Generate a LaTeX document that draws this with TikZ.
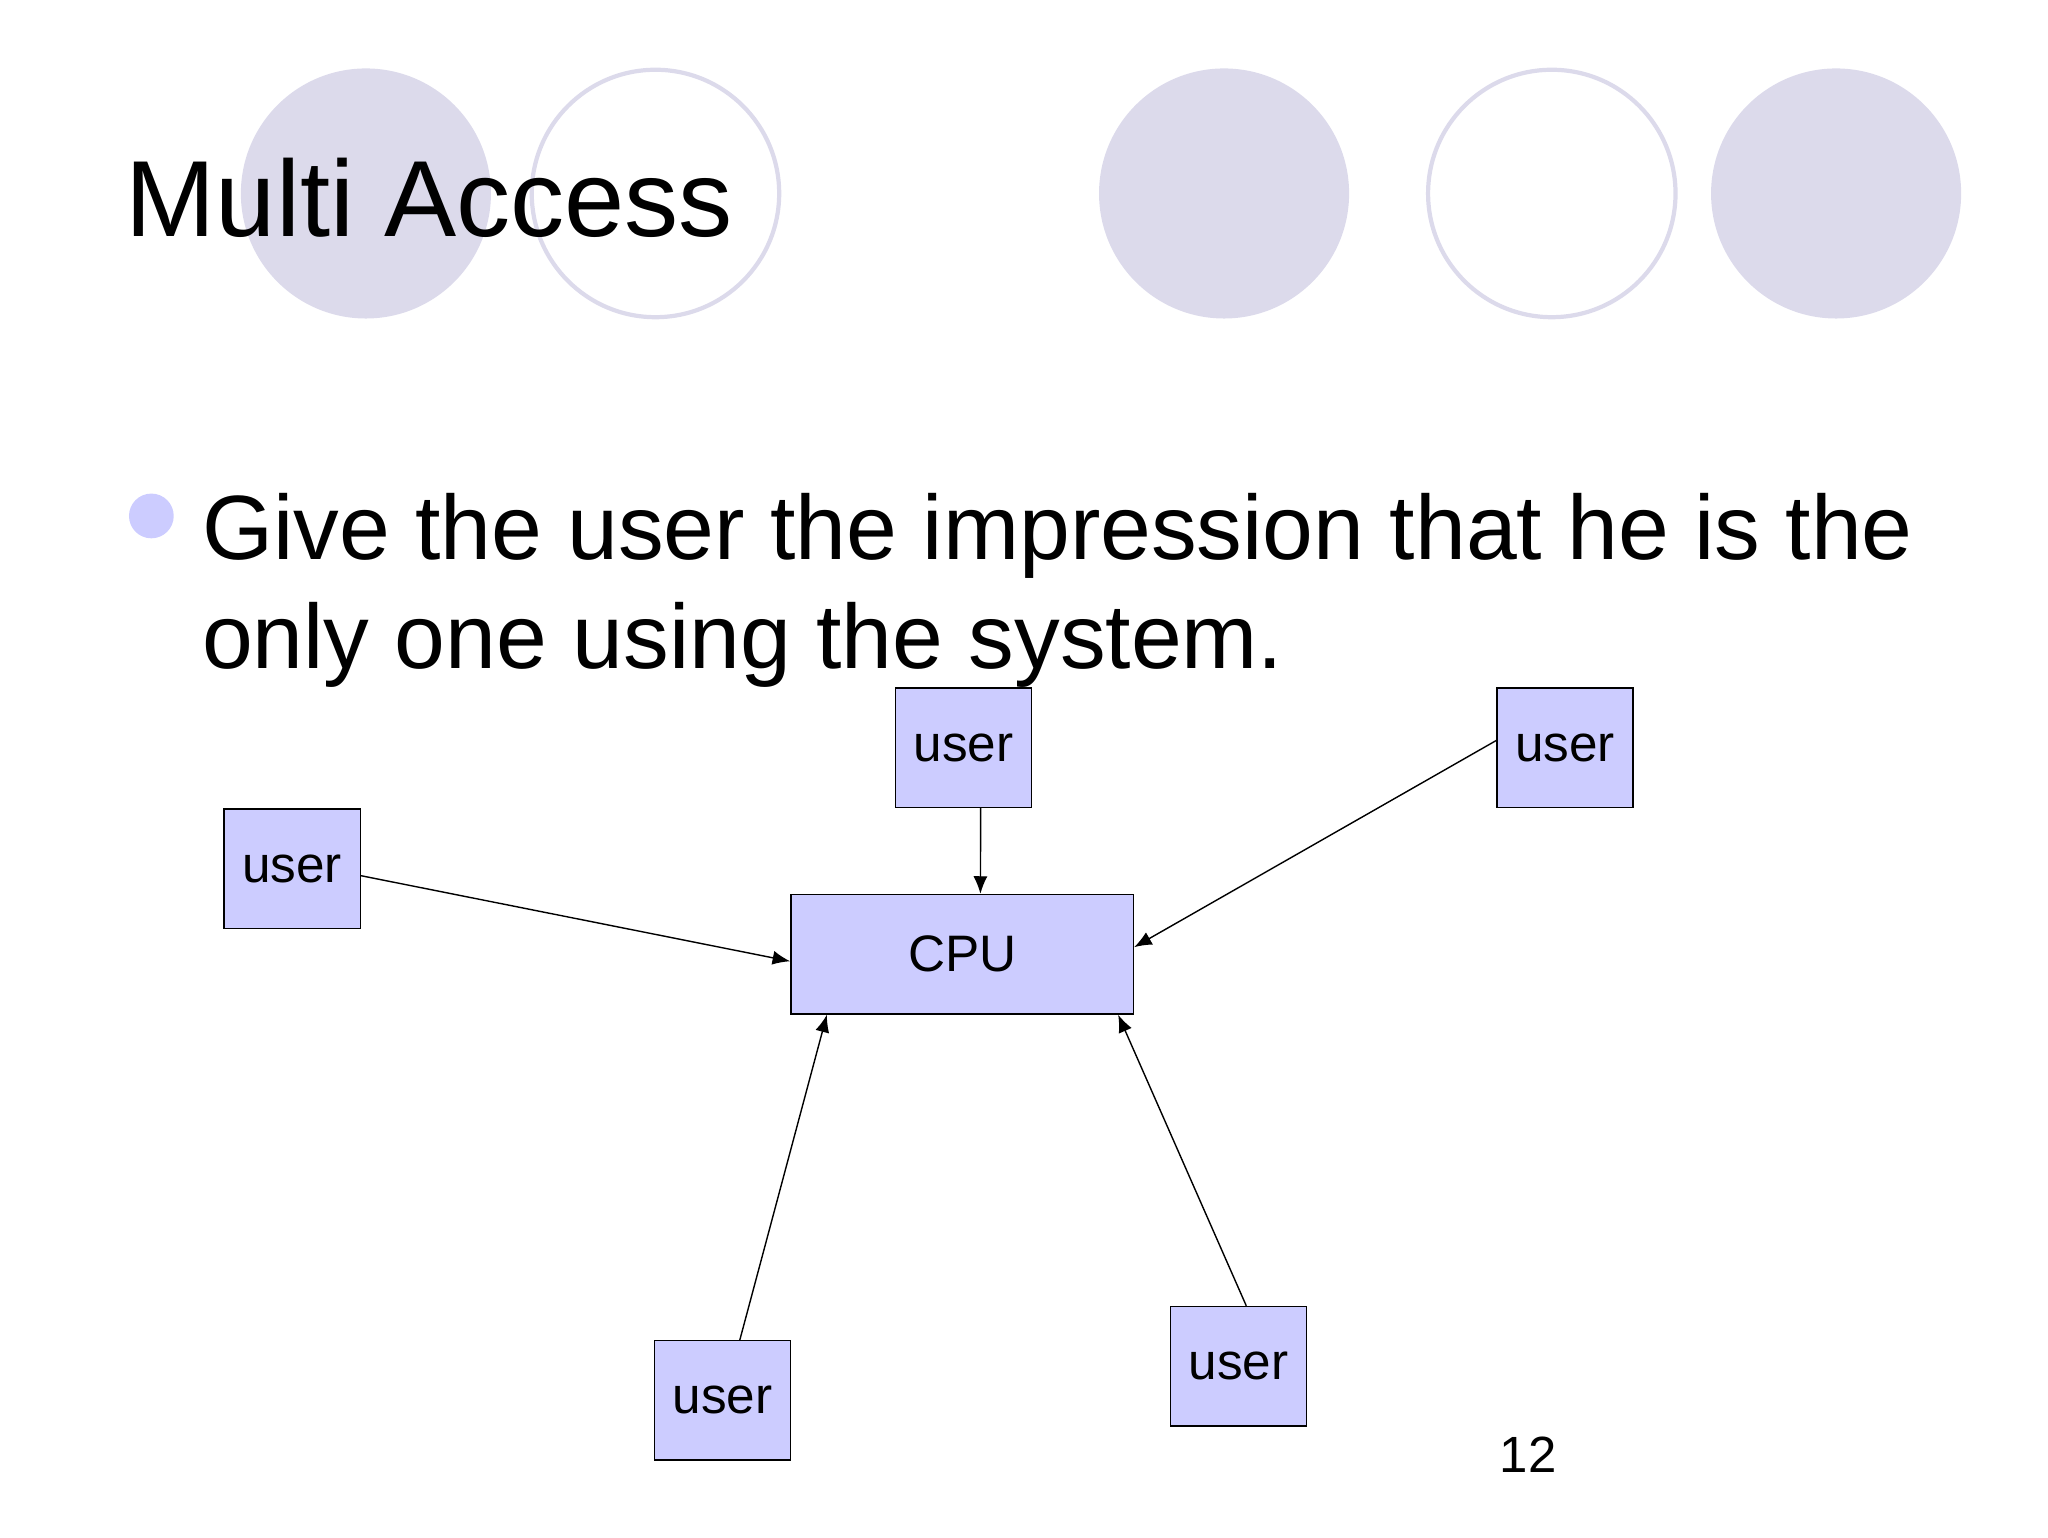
\documentclass[tikz,border=0pt]{standalone}
\usepackage{fontspec}
\setmainfont{Liberation Sans}
\usetikzlibrary{arrows.meta}
\definecolor{deco}{HTML}{DCDAEB}
\definecolor{boxfill}{HTML}{CCCCFF}
\begin{document}
\begin{tikzpicture}[x=0.013162cm,y=-0.013162cm,
    base/.style={draw,fill=boxfill,thin,minimum width=38.8pt,minimum height=34pt,inner sep=0pt,font=\fontsize{14.6}{18}\selectfont},
    link/.style={-{Latex[length=5pt,width=4pt]},thin}]
    \useasboundingbox (0,0) rectangle (1556,1168);
    % decoration
    \fill[deco] (278,147) circle (95);
    \draw[deco,line width=1.2pt] (498,147) circle (94);
    \fill[deco] (930,147) circle (95);
    \draw[deco,line width=1.2pt] (1179,147) circle (94);
    \fill[deco] (1395,147) circle (95);
    \fill[boxfill] (115,392) circle (17);

    \node[anchor=base west,inner sep=0pt,font=\fontsize{30.8}{36}\selectfont] (title) at (95,180) {Multi Access};
    \node[anchor=base west,inner sep=0pt,font=\fontsize{26}{31}\selectfont] (line1) at (153,425) {Give the user the impression that he is the};
    \node[anchor=base west,inner sep=0pt,font=\fontsize{26}{31}\selectfont] (line2) at (153,508) {only one using the system.};

    % boxes
    \node[base,minimum width=97.5pt] (cpu) at (731,725) {CPU};
    \node[base] (uT) at (732,568) {user};
    \node[base] (uR) at (1189,568) {user};
    \node[base] (uL) at (222,660) {user};
    \node[base] (uBL) at (549,1064) {user};
    \node[base] (uBR) at (941,1038) {user};

    \node[font=\fontsize{14.5}{17}\selectfont] (page) at (1161,1105) {12};

    \path[link]
    {
        ([yshift=-2pt]uL.east) edge ([yshift=-2pt]cpu.west)
        ([xshift=4.9pt]uT.south) edge ([xshift=5.2pt]cpu.north)
        ([yshift=2pt]uR.west) edge ([yshift=2pt]cpu.east)
        ([xshift=4.9pt]uBL.north) edge ([xshift=-38.5pt]cpu.south)
        ([xshift=2.2pt]uBR.north) edge ([xshift=44.4pt]cpu.south)
    };
\end{tikzpicture}
\end{document}
